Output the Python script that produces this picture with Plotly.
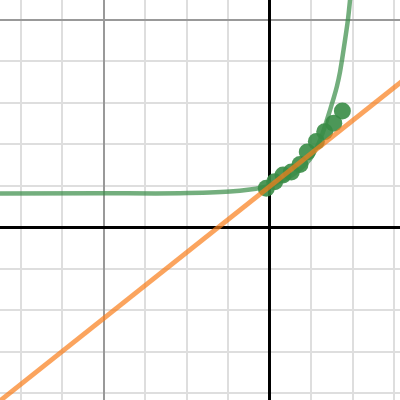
import plotly.graph_objects as go

# Data points
pts_x = [-0.039, 0.062, 0.163, 0.263, 0.367, 0.455, 0.564, 0.665, 0.774, 0.878]
pts_y = [0.188, 0.220, 0.252, 0.267, 0.303, 0.363, 0.413, 0.461, 0.502, 0.561]

# Green curve samples
curve_x = [-3.30, -2.04, -1.08, -0.476, -0.235, -0.090, 0.006, 0.127, 0.247, 0.367,
           0.488, 0.584, 0.657, 0.729, 0.777, 0.813, 0.849, 0.873, 0.910, 0.946, 0.970, 0.982]
curve_y = [0.163, 0.164, 0.164, 0.172, 0.182, 0.192, 0.201, 0.221, 0.245, 0.279,
           0.329, 0.397, 0.474, 0.565, 0.628, 0.681, 0.748, 0.806, 0.903, 1.004, 1.095, 1.144]

# Orange fitted line endpoints
line_x = [-3.30, 1.62]
line_y = [-0.853, 0.711]

X_RANGE = [-3.247, 1.572]
Y_RANGE = [-0.8323, 1.0954]

fig = go.Figure()
fig.add_trace(go.Scatter(x=curve_x, y=curve_y, mode="lines",
                         line=dict(color="rgba(56,140,70,0.7)", width=4.5, shape="spline", smoothing=0.8),
                         hoverinfo="skip"))
fig.add_trace(go.Scatter(x=pts_x, y=pts_y, mode="markers",
                         marker=dict(color="rgba(56,140,70,0.9)", size=17, line=dict(width=0)),
                         hoverinfo="skip"))
fig.add_trace(go.Scatter(x=line_x, y=line_y, mode="lines",
                         line=dict(color="rgba(250,126,25,0.7)", width=4.8),
                         hoverinfo="skip"))

axis_common = dict(showticklabels=False, ticks="", showline=False,
                   zeroline=True, zerolinecolor="black", zerolinewidth=3,
                   gridcolor="#999999", gridwidth=1.8)
fig.update_xaxes(range=X_RANGE, dtick=2, tick0=0,
                 minor=dict(dtick=0.5, tick0=0, showgrid=True, gridcolor="#dedede", gridwidth=1.8),
                 **axis_common)
fig.update_yaxes(range=Y_RANGE, dtick=1, tick0=0,
                 minor=dict(dtick=0.2, tick0=0, showgrid=True, gridcolor="#dedede", gridwidth=1.8),
                 **axis_common)
fig.update_layout(width=400, height=400, margin=dict(l=0, r=0, t=0, b=0),
                  plot_bgcolor="white", paper_bgcolor="white", showlegend=False)
fig.write_html("out.html", config={"displayModeBar": False},
               post_script="document.body.style.margin='0';document.body.style.overflow='hidden';")
